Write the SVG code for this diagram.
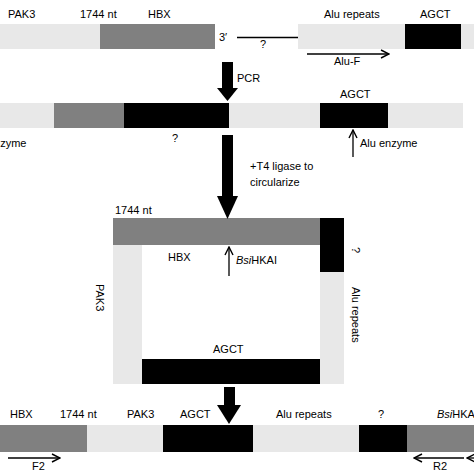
<svg xmlns="http://www.w3.org/2000/svg" width="474" height="474" viewBox="0 0 474 474">
<defs>
<style>
.lt{fill:#e8e8e8}
.gr{fill:#808080}
.bk{fill:#000}
text{font-family:"Liberation Sans",Arial,sans-serif;font-size:11px;fill:#000}
.th{stroke:#000;stroke-width:1.3;fill:none}
</style>
<marker id="chev" viewBox="0 0 10 10" refX="9" refY="5" markerWidth="10" markerHeight="10" markerUnits="userSpaceOnUse" orient="auto">
<path d="M1,1 L9,5 L1,9" fill="none" stroke="#000" stroke-width="1.4"/>
</marker>
<marker id="big" viewBox="0 0 22 20" refX="11" refY="20" markerWidth="22" markerHeight="20" markerUnits="userSpaceOnUse" orient="0">
<path d="M0,0 L22,0 L11,20 Z" fill="#000"/>
</marker>
</defs>
<rect width="474" height="474" fill="#fff"/>

<g id="row1">
<rect class="lt" x="0" y="24" width="100" height="25"/>
<rect class="gr" x="100" y="24" width="115" height="25"/>
<rect class="lt" x="298" y="24" width="107" height="25"/>
<rect class="bk" x="405" y="24" width="56" height="25"/>
<rect class="lt" x="461" y="24" width="13" height="25"/>
<text x="8" y="18">PAK3</text>
<text x="80" y="18">1744 nt</text>
<text x="148" y="18">HBX</text>
<text x="219" y="41">3′</text>
<text x="260" y="48">?</text>
<text x="324" y="18">Alu repeats</text>
<text x="420" y="18">AGCT</text>
<text x="334" y="65">Alu-F</text>
</g>

<g id="row2">
<rect class="lt" x="0" y="103" width="54" height="25"/>
<rect class="gr" x="54" y="103" width="70" height="25"/>
<rect class="bk" x="124" y="103" width="105" height="25"/>
<rect class="lt" x="229" y="103" width="91" height="25"/>
<rect class="bk" x="320" y="103" width="68" height="25"/>
<rect class="lt" x="388" y="103" width="75" height="25"/>
<text x="340" y="98">AGCT</text>
<text x="172" y="142">?</text>
<text x="-31" y="147">Alu enzyme</text>
<text x="360" y="147">Alu enzyme</text>
</g>

<g id="loop">
<rect class="gr" x="113" y="218" width="207" height="27"/>
<rect class="bk" x="320" y="218" width="24" height="54"/>
<rect class="lt" x="320" y="272" width="24" height="112"/>
<rect class="lt" x="113" y="245" width="29" height="139"/>
<rect class="bk" x="142" y="359" width="178" height="25"/>
<text x="115" y="214">1744 nt</text>
<text x="168" y="261">HBX</text>
<text x="236" y="264"><tspan font-style="italic">Bsi</tspan>HKAI</text>
<text x="213" y="353">AGCT</text>
<text transform="translate(352,247) rotate(90)">?</text>
<text transform="translate(352,287) rotate(90)">Alu repeats</text>
<text transform="translate(96,284) rotate(90)">PAK3</text>
</g>

<g id="row4">
<rect class="gr" x="0" y="425" width="87" height="27"/>
<rect class="lt" x="87" y="425" width="76" height="27"/>
<rect class="bk" x="163" y="425" width="90" height="27"/>
<rect class="lt" x="253" y="425" width="106" height="27"/>
<rect class="bk" x="359" y="425" width="48" height="27"/>
<rect class="gr" x="407" y="425" width="67" height="27"/>
<text x="10" y="418">HBX</text>
<text x="60" y="418">1744 nt</text>
<text x="127" y="418">PAK3</text>
<text x="180" y="418">AGCT</text>
<text x="276" y="418">Alu repeats</text>
<text x="378" y="418">?</text>
<text x="437" y="418"><tspan font-style="italic">Bsi</tspan>HKAI</text>
<text x="32" y="470">F2</text>
<text x="433" y="470">R2</text>
</g>

<g id="connectors">
<line class="th" x1="237" y1="37.5" x2="298" y2="37.5"/>
<line class="th" x1="307" y1="54" x2="389" y2="54" marker-end="url(#chev)"/>
<line class="th" x1="353" y1="157" x2="353" y2="130" marker-end="url(#chev)"/>
<line class="th" x1="229" y1="276" x2="229" y2="247" marker-end="url(#chev)"/>
<line class="th" x1="8" y1="458" x2="60" y2="458" marker-end="url(#chev)"/>
<line class="th" x1="464" y1="458" x2="414" y2="458" marker-end="url(#chev)"/>
<line class="th" x1="490" y1="458" x2="467" y2="458" marker-end="url(#chev)"/>
<rect class="bk" x="222" y="62" width="11" height="27"/>
<path d="M217,88 L238,88 L227.5,101 Z" fill="#000"/>
<text x="237" y="82">PCR</text>
<rect class="bk" x="222" y="135" width="11" height="63"/>
<path d="M217,196 L238,196 L227.5,219 Z" fill="#000"/>
<text x="250" y="170">+T4 ligase to</text>
<text x="250" y="186">circularize</text>
<rect class="bk" x="224" y="387" width="11" height="20"/>
<path d="M217,405 L241,405 L229,424 Z" fill="#000"/>
</g>
</svg>
